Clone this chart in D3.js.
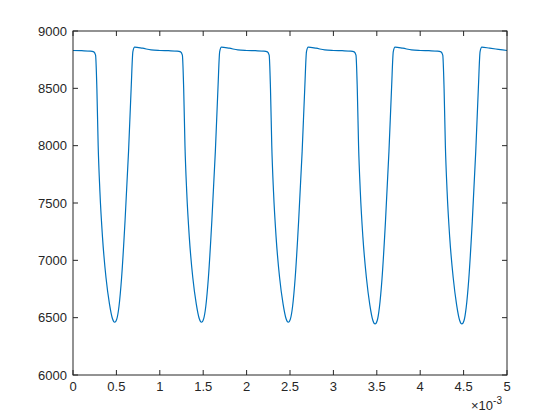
<!DOCTYPE html><html><head><meta charset="utf-8">
<script src="https://cdn.jsdelivr.net/npm/d3@7"></script>
<style>body{margin:0;background:#fff}text{font-family:"Liberation Sans",Arial,sans-serif}</style></head><body>
<svg id="c" width="560" height="420"></svg>
<script>
// time in ms (multiplied by 1e-3 when plotting)
const timeMs = [0,0.1,0.2,0.24,0.26,0.275,0.29,0.31,0.34,0.38,0.42,0.455,0.48,0.505,0.53,0.56,0.6,0.64,0.67,0.69,0.71,0.8,0.9,
1.0,1.1,1.2,1.24,1.26,1.275,1.29,1.31,1.34,1.38,1.42,1.455,1.48,1.505,1.53,1.56,1.6,1.64,1.67,1.69,1.71,1.8,1.9,
2.0,2.1,2.2,2.24,2.26,2.275,2.29,2.31,2.34,2.38,2.42,2.455,2.48,2.505,2.53,2.56,2.6,2.64,2.67,2.69,2.71,2.8,2.9,
3.0,3.1,3.2,3.24,3.26,3.275,3.29,3.31,3.34,3.38,3.42,3.455,3.48,3.505,3.53,3.56,3.6,3.64,3.67,3.69,3.71,3.8,3.9,
4.0,4.1,4.2,4.24,4.26,4.275,4.29,4.31,4.34,4.38,4.42,4.455,4.48,4.505,4.53,4.56,4.6,4.64,4.67,4.69,4.71,4.8,4.9,5.0];
const values = [8830,8828,8825,8818,8790,8500,8000,7600,7200,6850,6620,6490,6460,6490,6600,6850,7350,7950,8500,8820,8860,8850,8835,
8830,8828,8825,8818,8790,8500,8000,7600,7200,6850,6620,6490,6460,6490,6600,6850,7350,7950,8500,8820,8860,8850,8835,
8830,8828,8825,8818,8790,8500,8000,7600,7200,6850,6620,6490,6460,6490,6600,6850,7350,7950,8500,8820,8860,8850,8835,
8830,8828,8825,8818,8790,8500,8000,7600,7200,6850,6610,6475,6445,6475,6590,6840,7340,7950,8500,8820,8860,8850,8835,
8830,8828,8825,8818,8790,8500,8000,7600,7200,6850,6610,6475,6445,6475,6590,6840,7340,7950,8500,8820,8860,8850,8840,8830];
const xTicks = [0,0.5,1,1.5,2,2.5,3,3.5,4,4.5,5];
const yTicks = [6000,6500,7000,7500,8000,8500,9000];

const svg = d3.select("#c");
const L=73,R=507,T=31,B=375;
const x = d3.scaleLinear().domain([0,5e-3]).range([L,R]);
const y = d3.scaleLinear().domain([6000,9000]).range([B,T]);
const data = timeMs.map((t,i)=>({t:t*1e-3,v:values[i]}));
svg.append("path").datum(data).attr("fill","none").attr("stroke","#0072BD").attr("stroke-width",1.2)
  .attr("d",d3.line().x(d=>x(d.t)).y(d=>y(d.v)).curve(d3.curveMonotoneX));
const ac="#262626";
const g=svg.append("g");
g.append("rect").attr("x",L).attr("y",T).attr("width",R-L).attr("height",B-T).attr("fill","none").attr("stroke",ac).attr("stroke-width",1);
xTicks.forEach(t=>{const px=x(t*1e-3);
  g.append("line").attr("x1",px).attr("x2",px).attr("y1",B).attr("y2",B-5).attr("stroke",ac);
  g.append("line").attr("x1",px).attr("x2",px).attr("y1",T).attr("y2",T+5).attr("stroke",ac);
  g.append("text").attr("x",px).attr("y",B+16).attr("text-anchor","middle").attr("font-size",13).attr("fill",ac).text(t);});
yTicks.forEach(t=>{const py=y(t);
  g.append("line").attr("x1",L).attr("x2",L+5).attr("y1",py).attr("y2",py).attr("stroke",ac);
  g.append("line").attr("x1",R).attr("x2",R-5).attr("y1",py).attr("y2",py).attr("stroke",ac);
  g.append("text").attr("x",L-6).attr("y",py+4.5).attr("text-anchor","end").attr("font-size",13).attr("fill",ac).text(t);});
const ex=g.append("text").attr("x",R-36).attr("y",B+35).attr("font-size",13).attr("fill",ac);
ex.append("tspan").text("×10");
ex.append("tspan").attr("dy",-6).attr("font-size",10).text("-3");
</script></body></html>
